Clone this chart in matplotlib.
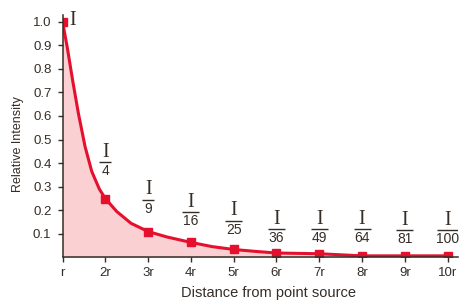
import numpy as np
import matplotlib.pyplot as plt

# intensity at each multiple of r
dist = [1, 2, 3, 4, 5, 6, 7, 8, 9, 10]
intensity = [1.0, 0.25, 0.11, 0.064, 0.034, 0.019, 0.016, 0.007, 0.007, 0.007]
# denominators shown in the I/n^2 labels
denoms = ['', '4', '9', '16', '25', '36', '49', '64', '81', '100']
x_ticklabels = ['r', '2r', '3r', '4r', '5r', '6r', '7r', '8r', '9r', '10r']
y_ticks = [0.1, 0.2, 0.3, 0.4, 0.5, 0.6, 0.7, 0.8, 0.9, 1.0]

curve_x = [1.0, 1.112, 1.238, 1.369, 1.526, 1.682, 1.86, 2.0, 2.266, 2.6, 3.0,
           3.44, 4.0, 4.5, 5.0, 5.5, 6.0, 7.0, 8.0, 9.0, 10.0]
curve_y = [1.0, 0.888, 0.748, 0.612, 0.470, 0.365, 0.29, 0.25, 0.195, 0.145, 0.11,
           0.087, 0.064, 0.046, 0.034, 0.026, 0.019, 0.016, 0.007, 0.007, 0.007]

# layout: height of fraction bar for each label (data units)
bar_y = [None, 0.403, 0.244, 0.191, 0.155, 0.120, 0.120, 0.120, 0.116, 0.116]

red = '#e5102e'
pink = '#fbd0d2'
ink = '#352d27'

fig = plt.figure(figsize=(4.74, 3.06), dpi=100)
ax = fig.add_axes([0.132, 0.1585, 0.834, 0.794])

ax.fill_between(curve_x, curve_y, 0, color=pink, lw=0)
ax.plot(curve_x, curve_y, color=red, lw=2.2, solid_capstyle='round',
        solid_joinstyle='round')
ax.plot(dist, intensity, ls='none', marker='s', ms=5.8, color=red)

ax.set_xlim(1, 10.24)
ax.set_ylim(0, 1.03)
ax.set_xticks(dist)
ax.set_xticklabels(x_ticklabels)
ax.set_yticks(y_ticks)
ax.set_yticklabels(['%.1f' % v for v in y_ticks])

for s in ['top', 'right']:
    ax.spines[s].set_visible(False)
for s in ['left', 'bottom']:
    ax.spines[s].set_color(ink)
    ax.spines[s].set_linewidth(1.1)
ax.tick_params(direction='out', length=3.6, width=1, color=ink,
               labelcolor=ink, labelsize=9.5, labelfontfamily='Liberation Sans')
ax.tick_params(axis='y', pad=4.4)
ax.tick_params(axis='x', pad=3.1)

ax.set_xlabel('Distance from point source', fontsize=10.5, color=ink,
              family='Liberation Sans', va='center')
ax.xaxis.set_label_coords(0.521, -0.146)
ax.set_ylabel('Relative Intensity', fontsize=9, color=ink,
              family='Liberation Sans', va='center')
ax.yaxis.set_label_coords(-0.1125, 0.465)

# I and I/n^2 labels
px = 1 / 42.8          # one pixel in x data units
py = 1 / 236.4         # one pixel in y data units
ax.text(dist[0] + 10.5 * px, intensity[0] + 1 * py, 'I', family='Liberation Serif',
        fontsize=14.5, color=ink, ha='center', va='center')
for n, d, by in zip(dist[1:], denoms[1:], bar_y[1:]):
    hw = {1: 6, 2: 8.5, 3: 11}[len(d)] * px
    ax.hlines(by, n - hw, n + hw, color=ink, lw=1)
    ax.text(n, by + 10 * py, 'I', family='Liberation Serif', fontsize=14.5,
            color=ink, ha='center', va='center')
    ax.text(n, by - 9 * py, d, family='Liberation Sans', fontsize=10,
            color=ink, ha='center', va='center')

fig.savefig('out.png', dpi=100)
